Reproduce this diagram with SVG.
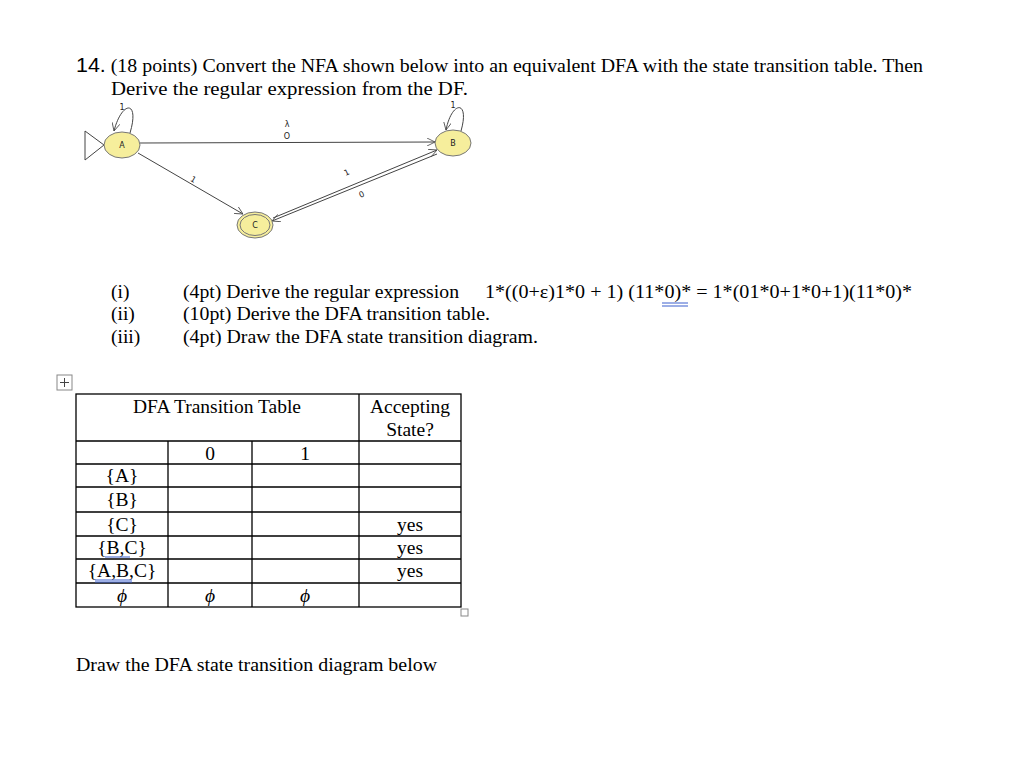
<svg xmlns="http://www.w3.org/2000/svg" width="1024" height="782" viewBox="0 0 1024 782">
<defs>
<marker id="ar" viewBox="0 0 10 10" refX="10" refY="5" markerWidth="8" markerHeight="8" orient="auto-start-reverse" markerUnits="userSpaceOnUse"><path d="M0,0 L10,5 L0,10" fill="none" stroke="#444" stroke-width="1"/></marker>
</defs>
<style>
.t{font-family:"Liberation Serif",serif;font-size:19.5px;fill:#000}
.s{font-family:"DejaVu Sans",sans-serif;font-size:8px;fill:#222}
.n{fill:#f6ee9c;stroke:#777;stroke-width:1}
.e{fill:none;stroke:#444;stroke-width:1}
.g{stroke:#000;stroke-width:1.3;fill:none}
.c{font-family:"Liberation Serif",serif;font-size:19.5px;text-anchor:middle}
</style>
<rect width="1024" height="782" fill="#fff"/>
<text class="t" x="76" y="72" textLength="847" lengthAdjust="spacingAndGlyphs"><tspan font-family="Liberation Sans,sans-serif" font-size="21">14.</tspan> (18 points) Convert the NFA shown below into an equivalent DFA with the state transition table. Then</text>
<text class="t" x="111" y="95" textLength="357" lengthAdjust="spacingAndGlyphs">Derive the regular expression from the DF.</text>

<g id="connectors">
<path class="e" d="M104,145 L85,131 L85,160 Z"/>
<path class="e" d="M130,133 C140,100 122,100 114,131" marker-end="url(#ar)"/>
<path class="e" d="M461,131 C470,100 452,100 446,130" marker-end="url(#ar)"/>
<line class="e" x1="140" y1="143" x2="435" y2="142" marker-end="url(#ar)"/>
<line class="e" x1="138" y1="153" x2="243" y2="214" marker-end="url(#ar)"/>
<line class="e" x1="273" y1="218" x2="437" y2="150" marker-end="url(#ar)"/>
<line class="e" x1="437" y1="154" x2="272" y2="221" marker-end="url(#ar)"/>
<text class="s" x="122" y="110" text-anchor="middle">1</text>
<text class="s" x="453" y="108" text-anchor="middle">1</text>
<text class="s" x="287" y="127" text-anchor="middle">λ</text>
<text class="s" x="287" y="139" text-anchor="middle">O</text>
<text class="s" x="193" y="182" text-anchor="middle" transform="rotate(30 193 180)">1</text>
<text class="s" x="347" y="175" text-anchor="middle" transform="rotate(-25 347 173)">1</text>
<text class="s" x="362" y="197" text-anchor="middle" transform="rotate(-25 362 195)">0</text>
</g>
<g id="A"><ellipse class="n" cx="122" cy="145" rx="18" ry="13"/><text class="s" x="122" y="148" text-anchor="middle">A</text></g>
<g id="B"><ellipse class="n" cx="453" cy="143" rx="18" ry="13"/><text class="s" x="453" y="146" text-anchor="middle">B</text></g>
<g id="C"><ellipse class="n" cx="255" cy="225" rx="18" ry="13"/><ellipse fill="none" stroke="#777" cx="255" cy="225" rx="15" ry="10.5"/><text class="s" x="255" y="228" text-anchor="middle">C</text></g>

<text class="t" x="111" y="298">(i)</text>
<text class="t" x="111" y="320">(ii)</text>
<text class="t" x="111" y="343">(iii)</text>
<text class="t" x="183" y="298" textLength="276" lengthAdjust="spacingAndGlyphs">(4pt) Derive the regular expression</text>
<text class="t" x="485" y="298" textLength="427" lengthAdjust="spacingAndGlyphs">1*((0+ε)1*0 + 1) (11*0)* = 1*(01*0+1*0+1)(11*0)*</text>
<line x1="662" y1="303" x2="688" y2="303" stroke="#3a5fcd" stroke-width="1"/>
<line x1="662" y1="306" x2="688" y2="306" stroke="#3a5fcd" stroke-width="1"/>
<text class="t" x="183" y="320" textLength="307" lengthAdjust="spacingAndGlyphs">(10pt) Derive the DFA transition table.</text>
<text class="t" x="183" y="343" textLength="355" lengthAdjust="spacingAndGlyphs">(4pt) Draw the DFA state transition diagram.</text>

<rect x="57" y="375" width="15" height="15" fill="#fff" stroke="#888"/>
<path d="M64.5,378 V387 M60,382.5 H69" stroke="#444" stroke-width="1"/>

<g id="table">
<rect class="g" x="76" y="394" width="385" height="213"/>
<path class="g" d="M359,394 V607 M76,441 H461 M168,441 V607 M252,441 V607 M76,464 H461 M76,487 H461 M76,512 H461 M76,536 H461 M76,559 H461 M76,583 H461"/>
<text class="c" x="217" y="413">DFA Transition Table</text>
<text class="c" x="410" y="413">Accepting</text>
<text class="c" x="410" y="436">State?</text>
<text class="c" x="210" y="460">0</text>
<text class="c" x="305" y="460">1</text>
<text class="c" x="122" y="482">{A}</text>
<text class="c" x="122" y="506">{B}</text>
<text class="c" x="122" y="531">{C}</text>
<text class="c" x="122" y="554">{B,C}</text>
<text class="c" x="122" y="577">{A,B,C}</text>
<text class="c" x="410" y="531">yes</text>
<text class="c" x="410" y="554">yes</text>
<text class="c" x="410" y="577">yes</text>
<text class="c" x="122" y="602" font-style="italic">ϕ</text>
<text class="c" x="210" y="602" font-style="italic">ϕ</text>
<text class="c" x="305" y="602" font-style="italic">ϕ</text>
<path d="M105,557 H130 M95,580 H132 M95,582 H132" stroke="#3a5fcd" stroke-width="1"/>
</g>
<rect x="461" y="609" width="7" height="7" fill="#fff" stroke="#888"/>
<text class="t" x="76" y="671" textLength="361" lengthAdjust="spacingAndGlyphs">Draw the DFA state transition diagram below</text>
</svg>
